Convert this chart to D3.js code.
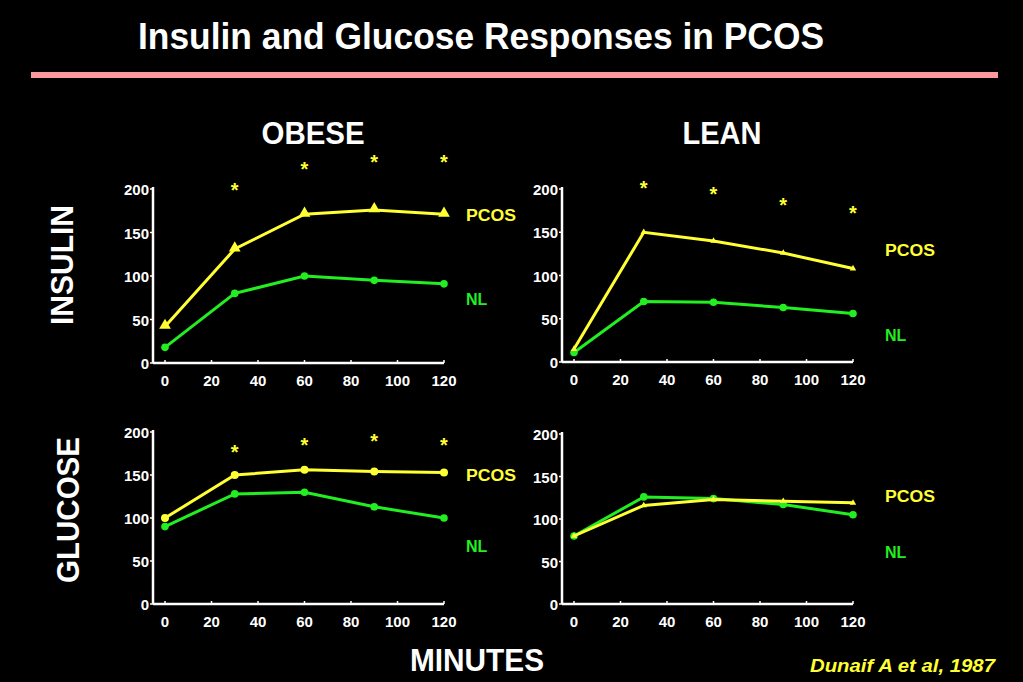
<!DOCTYPE html>
<html>
<head>
<meta charset="utf-8">
<script src="https://cdn.jsdelivr.net/npm/d3@7"></script>
<style>
  html, body { margin: 0; padding: 0; background: #000; }
  svg { display: block; }
  text { font-family: "Liberation Sans", Arial, sans-serif; font-weight: bold; }
</style>
</head>
<body>
<script>
const minutes = [0, 30, 60, 90, 120]
const xTicks = [0, 20, 40, 60, 80, 100, 120]
const yTicks = [0, 50, 100, 150, 200]

// insulin, obese
const obeseInsulinPCOS = [42, 131, 171, 176, 171]
const obeseInsulinNL = [18, 80, 100, 95, 91]
const obeseInsulinStars = [null, 201, 225, 233, 233]

// insulin, lean
const leanInsulinPCOS = [15, 150, 140, 126, 108]
const leanInsulinNL = [11, 70, 69, 63, 56]
const leanInsulinStars = [null, 203, 197, 184, 174]

// glucose, obese
const obeseGlucosePCOS = [100, 150, 156, 154, 153]
const obeseGlucoseNL = [90, 128, 130, 113, 100]
const obeseGlucoseStars = [null, 179, 187, 192, 187]

// glucose, lean
const leanGlucosePCOS = [80, 116, 123, 121, 119]
const leanGlucoseNL = [80, 126, 124, 117, 105]

const W = 1023, H = 682
const yellow = "#ffff33", green = "#22ee22"

const svg = d3.select("body").append("svg")
  .attr("width", W).attr("height", H)
svg.append("rect").attr("width", W).attr("height", H).attr("fill", "#000")

// title + rule
svg.append("text").attr("x", 481).attr("y", 49)
  .attr("text-anchor", "middle").attr("fill", "#fff")
  .attr("font-size", 36).attr("textLength", 686).attr("lengthAdjust", "spacingAndGlyphs")
  .text("Insulin and Glucose Responses in PCOS")
svg.append("line").attr("x1", 31).attr("x2", 998).attr("y1", 75).attr("y2", 75)
  .attr("stroke", "#fa9a9c").attr("stroke-width", 6)

const bigText = (x, y, t, len, rot) => {
  const el = svg.append("text").attr("fill", "#fff").attr("font-size", 31)
    .attr("text-anchor", "middle").attr("textLength", len)
    .attr("lengthAdjust", "spacingAndGlyphs").text(t)
  if (rot) el.attr("transform", `translate(${x},${y}) rotate(-90)`)
  else el.attr("x", x).attr("y", y)
}
bigText(313, 144, "OBESE", 103)
bigText(722, 144, "LEAN", 79)
bigText(73, 265, "INSULIN", 120, true)
bigText(79, 510, "GLUCOSE", 146, true)
bigText(477, 671, "MINUTES", 134)

svg.append("text").attr("x", 995).attr("y", 672).attr("text-anchor", "end")
  .attr("fill", yellow).attr("font-size", 19).attr("font-style", "italic")
  .attr("textLength", 185).attr("lengthAdjust", "spacingAndGlyphs")
  .text("Dunaif A et al, 1987")

const panels = [
  {x0: 153, x1: 444, y0: 363, y1: 189, pcos: obeseInsulinPCOS, nl: obeseInsulinNL, stars: obeseInsulinStars,
   marker: "bigTri", lab: [466, 221, 466, 305]},
  {x0: 562, x1: 853, y0: 362, y1: 189, pcos: leanInsulinPCOS, nl: leanInsulinNL, stars: leanInsulinStars,
   marker: "smallTri", lab: [885, 256, 885, 341]},
  {x0: 153, x1: 444, y0: 604, y1: 432, pcos: obeseGlucosePCOS, nl: obeseGlucoseNL, stars: obeseGlucoseStars,
   marker: "dot", lab: [466, 481, 466, 552]},
  {x0: 562, x1: 853, y0: 604, y1: 434, pcos: leanGlucosePCOS, nl: leanGlucoseNL, stars: null,
   marker: "smallTri", lab: [885, 502, 885, 558]}
]

panels.forEach(p => {
  const g = svg.append("g")
  const x = d3.scaleLinear().domain([0, 120]).range([p.x0 + 12, p.x1])
  const y = d3.scaleLinear().domain([0, 200]).range([p.y0, p.y1])

  // axes
  g.append("line").attr("x1", p.x0).attr("x2", p.x0).attr("y1", p.y1 - 2).attr("y2", p.y0)
    .attr("stroke", "#fff").attr("stroke-width", 2.5)
  g.append("line").attr("x1", p.x0).attr("x2", p.x1).attr("y1", p.y0).attr("y2", p.y0)
    .attr("stroke", "#fff").attr("stroke-width", 2.5)
  g.selectAll(".yt").data(yTicks).join("line")
    .attr("x1", p.x0 - 3).attr("x2", p.x0).attr("y1", d => y(d)).attr("y2", d => y(d))
    .attr("stroke", "#fff").attr("stroke-width", 1.5)
  g.selectAll(".xt").data(xTicks).join("line")
    .attr("x1", d => x(d)).attr("x2", d => x(d)).attr("y1", p.y0).attr("y2", p.y0 - 3)
    .attr("stroke", "#fff").attr("stroke-width", 1.5)
  g.selectAll(".yl").data(yTicks).join("text")
    .attr("x", p.x0 - 4).attr("y", d => y(d) + 6).attr("text-anchor", "end")
    .attr("fill", "#fff").attr("font-size", 15).text(d => d)
  g.selectAll(".xl").data(xTicks).join("text")
    .attr("x", d => x(d)).attr("y", p.y0 + 23).attr("text-anchor", "middle")
    .attr("fill", "#fff").attr("font-size", 15).text(d => d)

  const line = d3.line().x((d, i) => x(minutes[i])).y(d => y(d))

  // NL
  g.append("path").attr("d", line(p.nl)).attr("fill", "none")
    .attr("stroke", green).attr("stroke-width", 3)
  g.selectAll(".nld").data(p.nl).join("circle")
    .attr("cx", (d, i) => x(minutes[i])).attr("cy", d => y(d)).attr("r", 3.8).attr("fill", green)

  // PCOS
  g.append("path").attr("d", line(p.pcos)).attr("fill", "none")
    .attr("stroke", yellow).attr("stroke-width", 3)
  if (p.marker === "dot") {
    g.selectAll(".pd").data(p.pcos).join("circle")
      .attr("cx", (d, i) => x(minutes[i])).attr("cy", d => y(d)).attr("r", 4).attr("fill", yellow)
  } else {
    const size = p.marker === "bigTri" ? 60 : 18
    g.selectAll(".pt").data(p.pcos).join("path")
      .attr("d", d3.symbol(d3.symbolTriangle, size))
      .attr("transform", (d, i) => `translate(${x(minutes[i])},${y(d) - (p.marker === "bigTri" ? 1 : 0)})`)
      .attr("fill", yellow)
  }

  // significance stars
  if (p.stars) {
    g.selectAll(".st").data(p.stars.map((s, i) => [minutes[i], s]).filter(d => d[1] !== null)).join("text")
      .attr("x", d => x(d[0])).attr("y", d => y(d[1]) + 9).attr("text-anchor", "middle")
      .attr("fill", yellow).attr("font-size", 20).attr("font-weight", "normal").text("*")
  }

  // series labels
  svg.append("text").attr("x", p.lab[0]).attr("y", p.lab[1]).attr("fill", yellow)
    .attr("font-size", 16).attr("textLength", 50).attr("lengthAdjust", "spacingAndGlyphs").text("PCOS")
  svg.append("text").attr("x", p.lab[2]).attr("y", p.lab[3]).attr("fill", green)
    .attr("font-size", 16).text("NL")
})
</script>
</body>
</html>
